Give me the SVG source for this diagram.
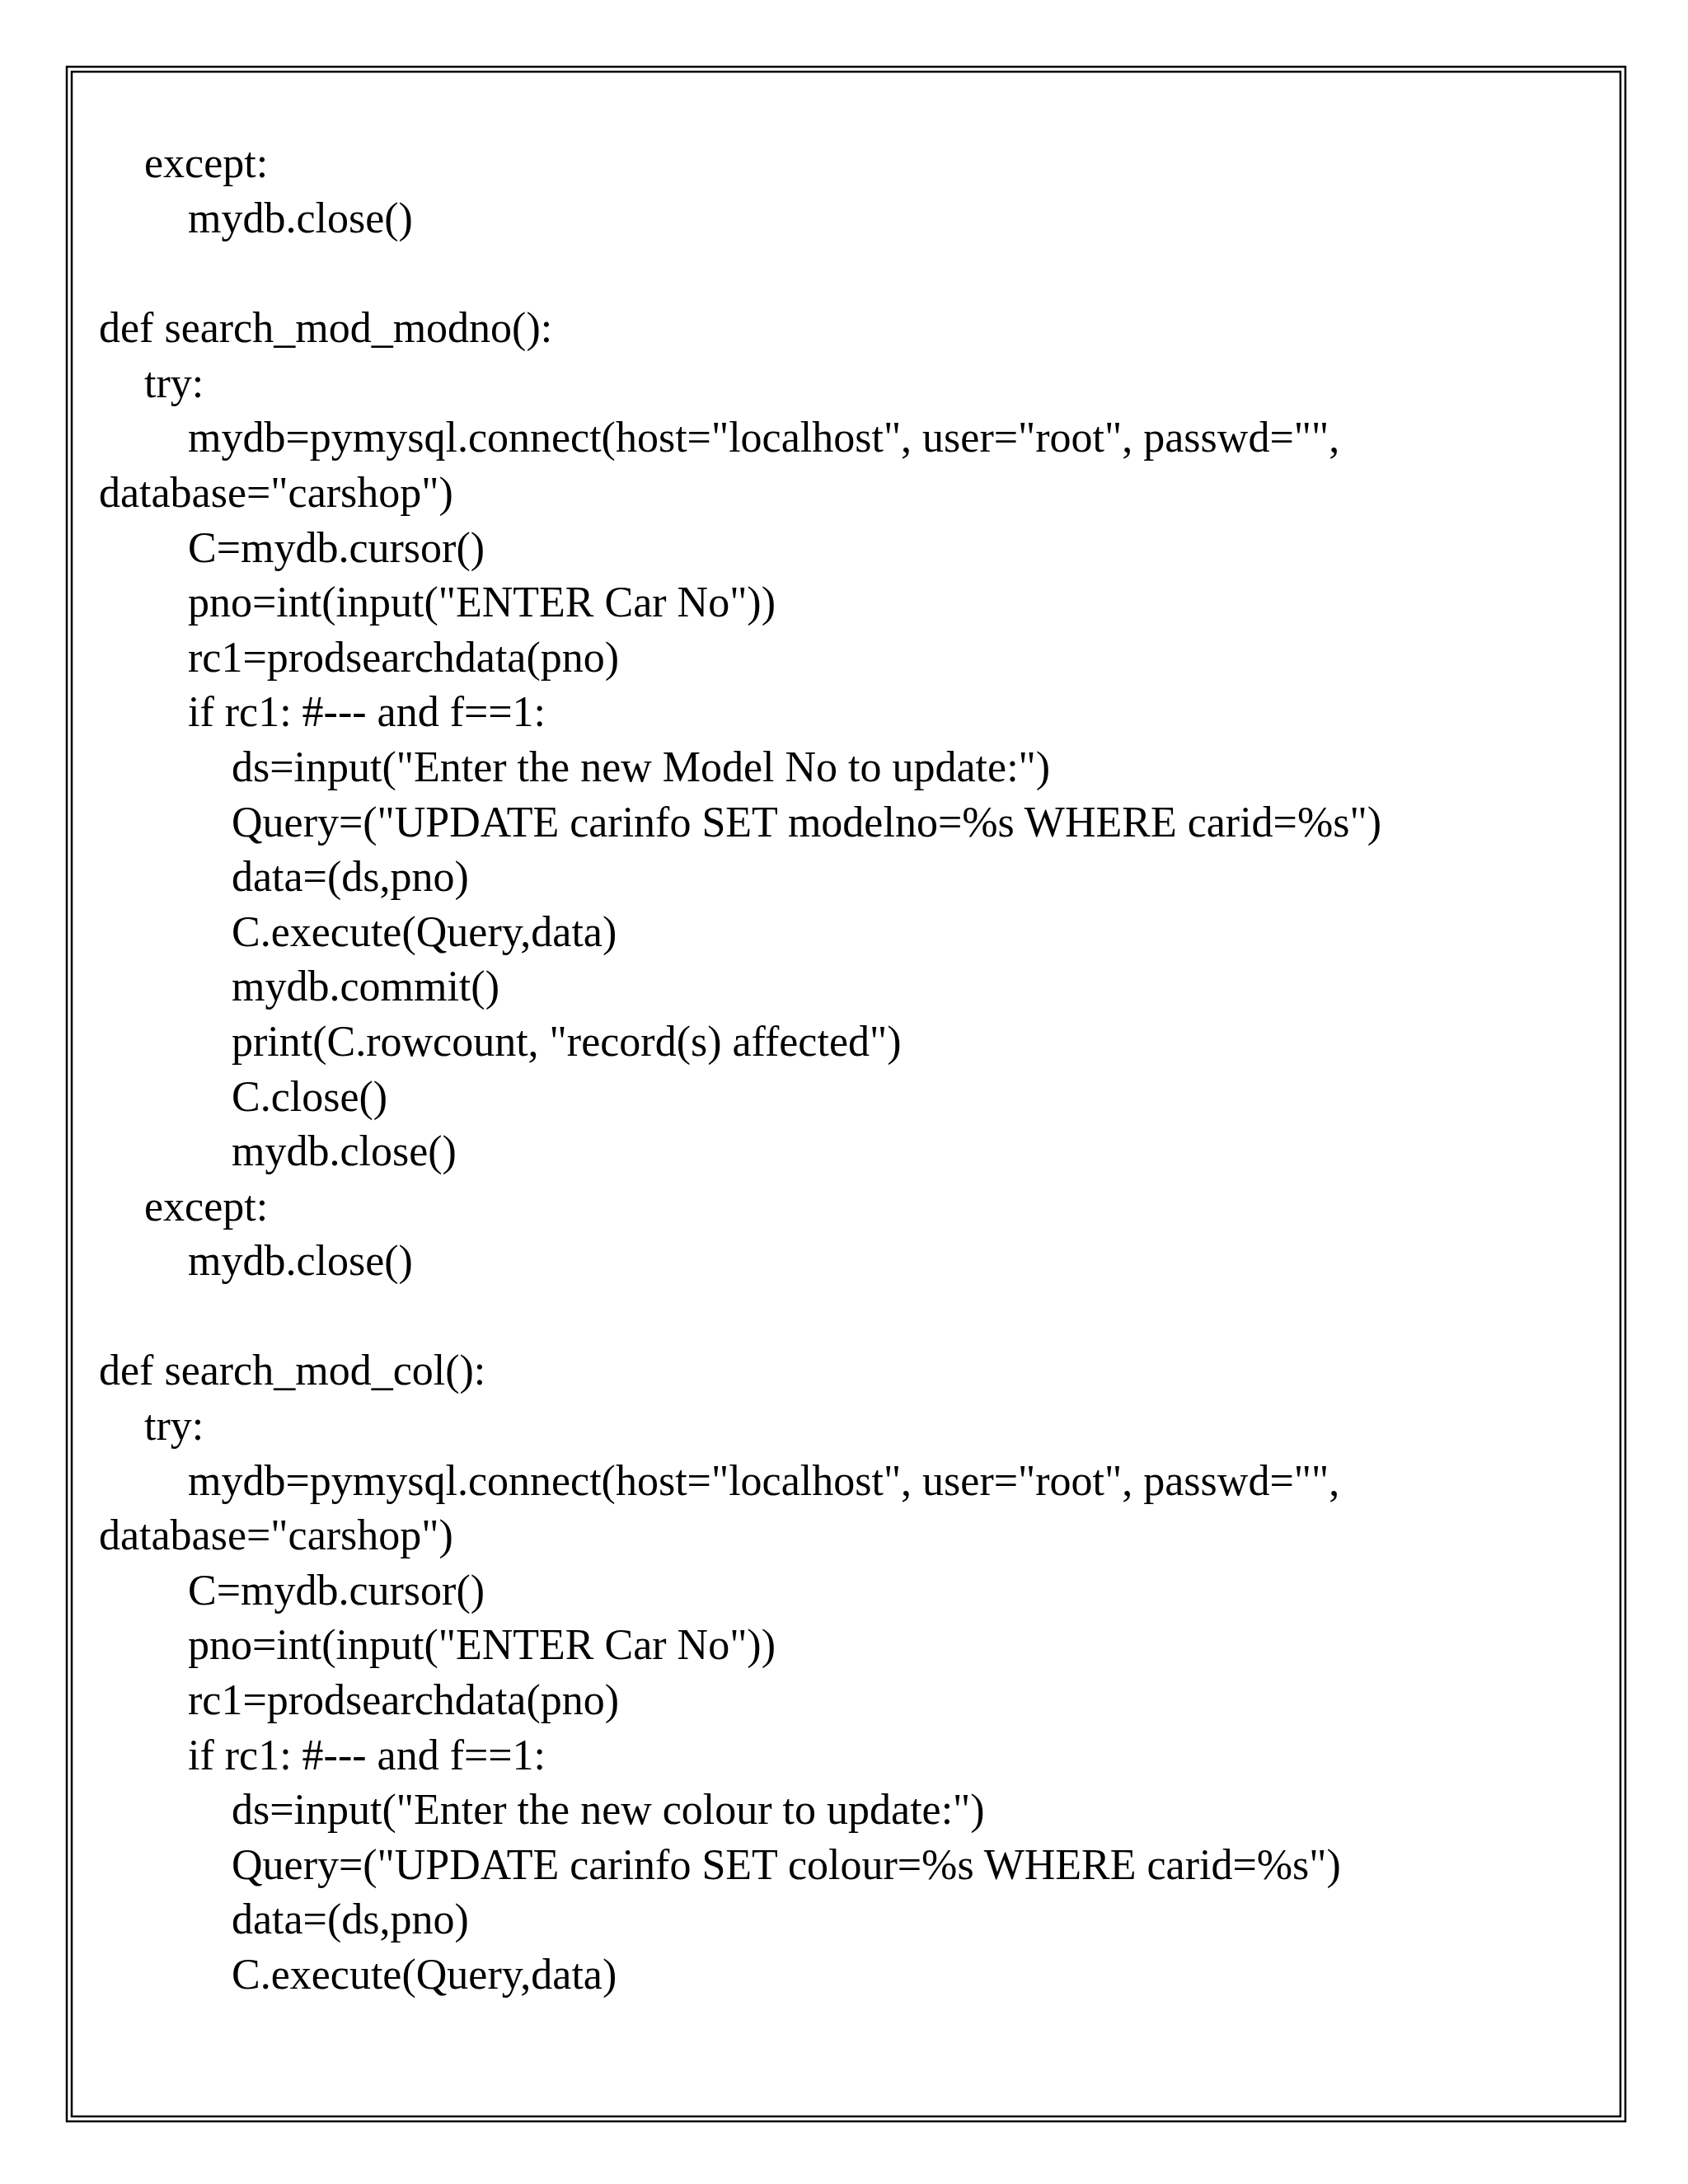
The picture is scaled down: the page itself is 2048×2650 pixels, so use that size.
<svg xmlns="http://www.w3.org/2000/svg" width="2048" height="2650" viewBox="0 0 2048 2650">
<style>
.b{fill:none;stroke:#000;stroke-width:2.5}
text{font-family:"Liberation Serif","Times New Roman",serif;font-size:52px;fill:#000}
</style>
<rect width="2048" height="2650" fill="#fff"/>
<g id="border">
<rect class="b" x="81" y="81" width="1891" height="2493"/>
<rect class="b" x="87" y="87" width="1879" height="2481"/>
</g>
<g id="code">
<text x="175" y="215">except:</text>
<text x="228" y="282">mydb.close()</text>
<text x="120" y="415">def search_mod_modno():</text>
<text x="175" y="482">try:</text>
<text x="228" y="548">mydb=pymysql.connect(host="localhost", user="root", passwd="",</text>
<text x="120" y="615">database="carshop")</text>
<text x="228" y="682">C=mydb.cursor()</text>
<text x="228" y="748">pno=int(input("ENTER Car No"))</text>
<text x="228" y="815">rc1=prodsearchdata(pno)</text>
<text x="228" y="881">if rc1: #--- and f==1:</text>
<text x="281" y="948">ds=input("Enter the new Model No to update:")</text>
<text x="281" y="1015">Query=("UPDATE carinfo SET modelno=%s WHERE carid=%s")</text>
<text x="281" y="1081">data=(ds,pno)</text>
<text x="281" y="1148">C.execute(Query,data)</text>
<text x="281" y="1214">mydb.commit()</text>
<text x="281" y="1281">print(C.rowcount, "record(s) affected")</text>
<text x="281" y="1348">C.close()</text>
<text x="281" y="1414">mydb.close()</text>
<text x="175" y="1481">except:</text>
<text x="228" y="1547">mydb.close()</text>
<text x="120" y="1680">def search_mod_col():</text>
<text x="175" y="1747">try:</text>
<text x="228" y="1814">mydb=pymysql.connect(host="localhost", user="root", passwd="",</text>
<text x="120" y="1880">database="carshop")</text>
<text x="228" y="1947">C=mydb.cursor()</text>
<text x="228" y="2013">pno=int(input("ENTER Car No"))</text>
<text x="228" y="2080">rc1=prodsearchdata(pno)</text>
<text x="228" y="2147">if rc1: #--- and f==1:</text>
<text x="281" y="2213">ds=input("Enter the new colour to update:")</text>
<text x="281" y="2280">Query=("UPDATE carinfo SET colour=%s WHERE carid=%s")</text>
<text x="281" y="2346">data=(ds,pno)</text>
<text x="281" y="2413">C.execute(Query,data)</text>
</g>
</svg>
